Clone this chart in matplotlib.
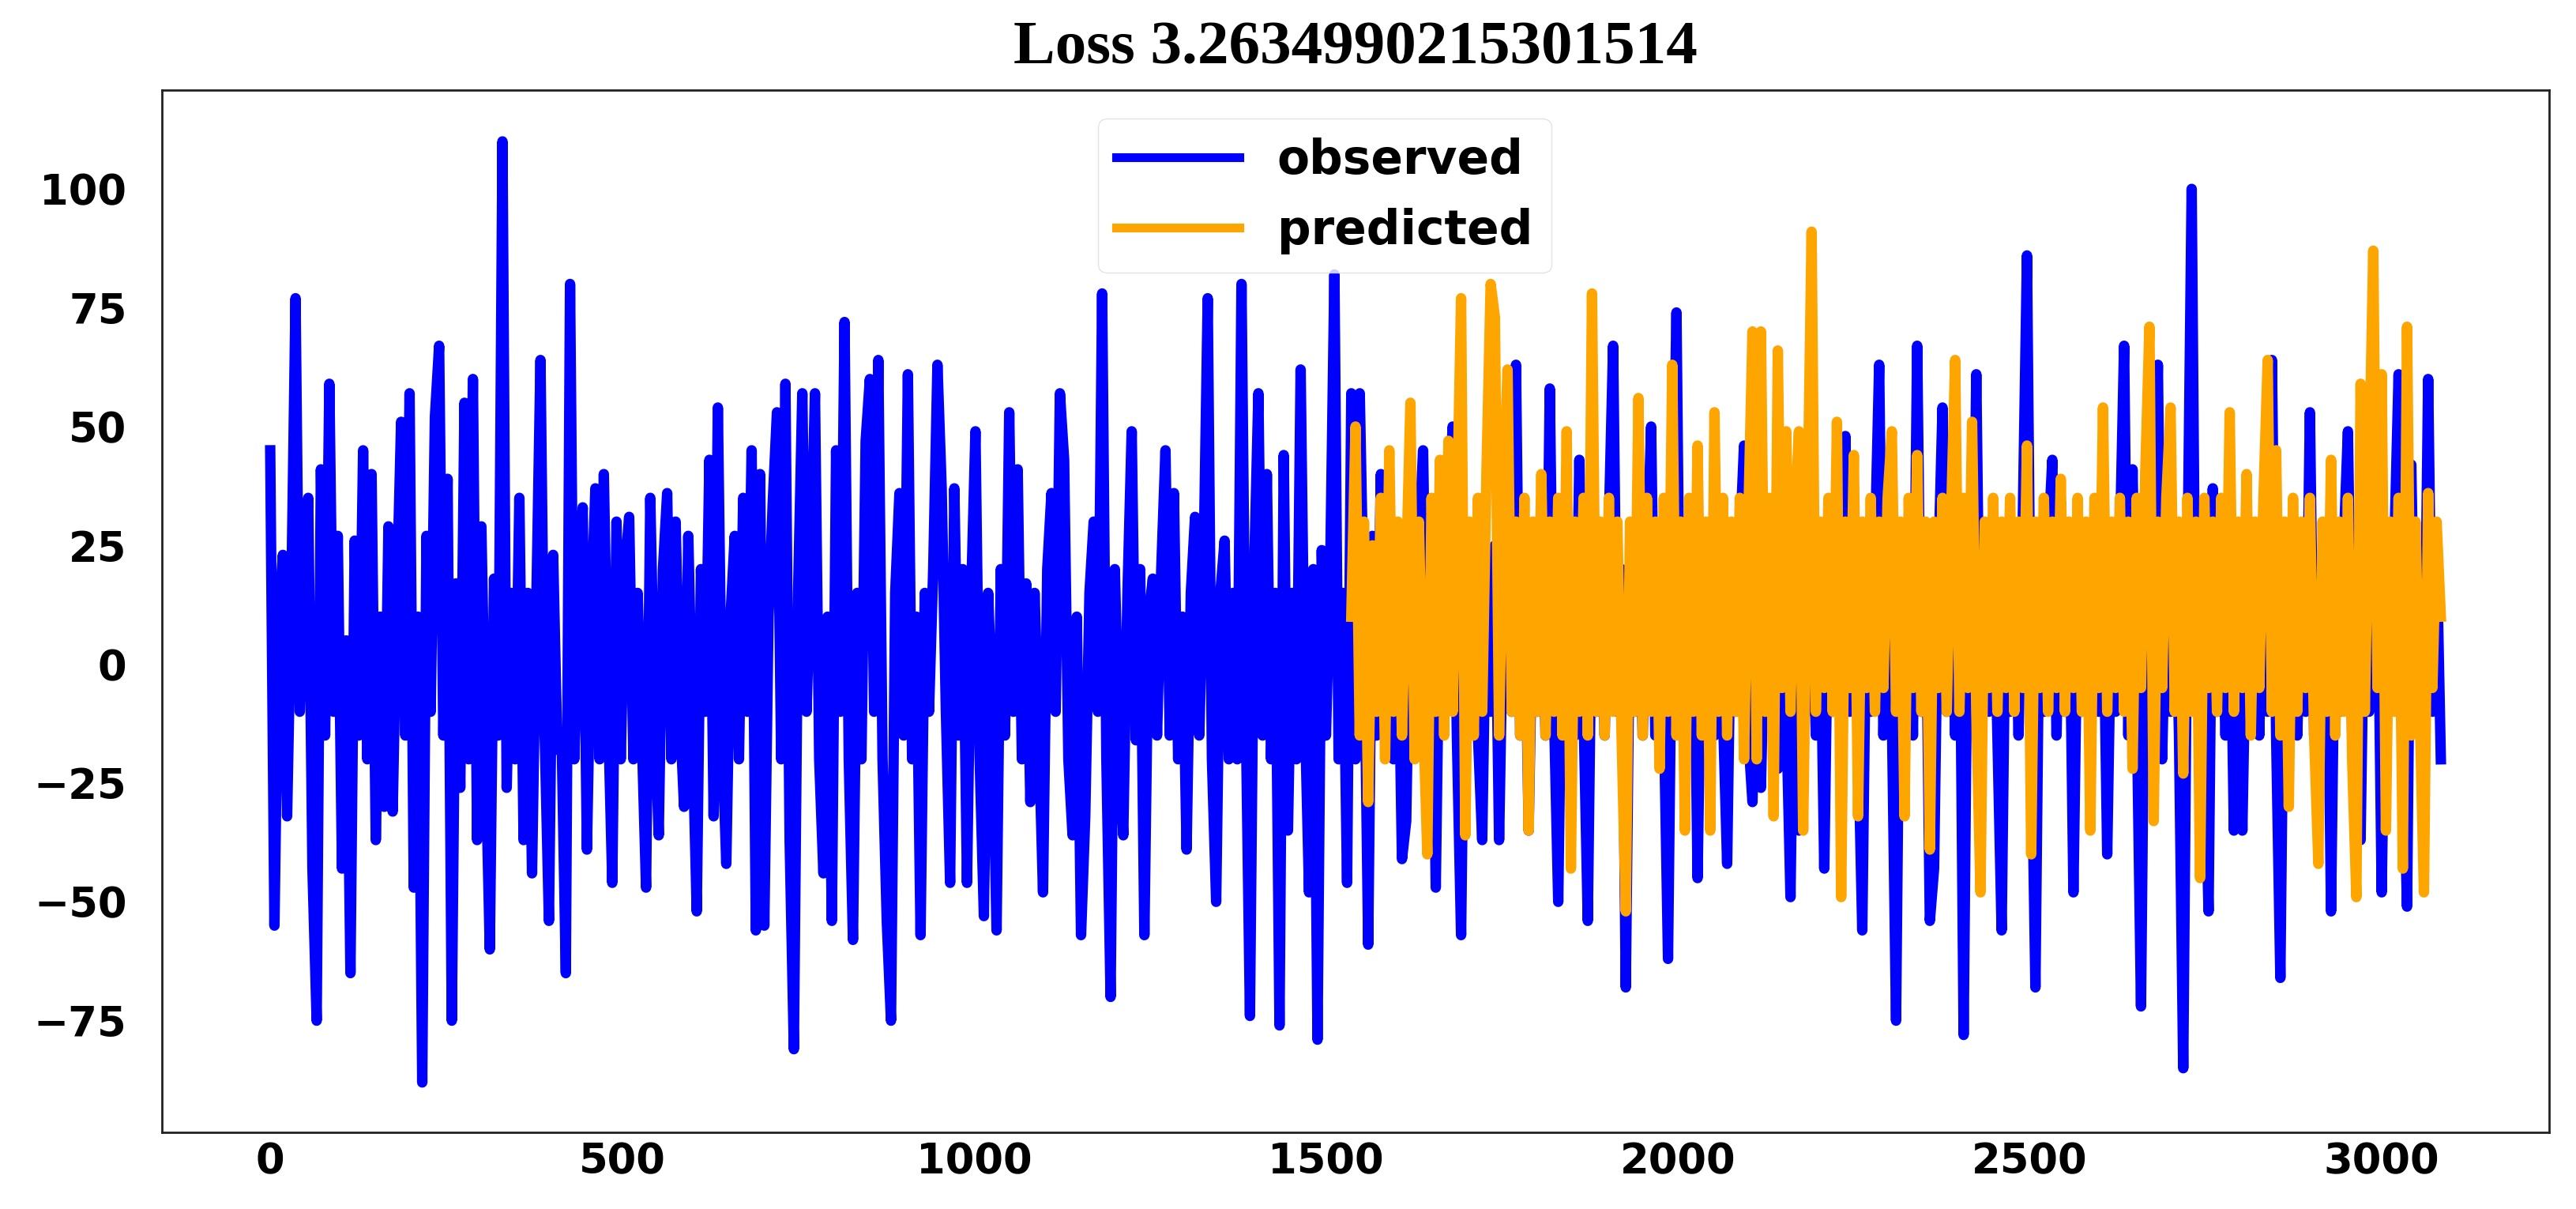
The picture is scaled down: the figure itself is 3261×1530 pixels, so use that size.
import numpy as np
import matplotlib
matplotlib.use("Agg")
import matplotlib.pyplot as plt

# ---------------- data (vertices every STEP samples) -------------
STEP = 6
title_text = "Loss 3.2634990215301514"
labels = ["observed", "predicted"]
x_ticks = [0, 500, 1000, 1500, 2000, 2500, 3000]
y_ticks = [-75, -50, -25, 0, 25, 50, 75, 100]

obs_start_1 = 0
obs_vals_1 = [45, -55, 10, 23, -32, 15, 77, -10, 20, 35, -43, -75, 41, -15, 59, -10, 27, -43, 5, -65,
              26, -15, 45, -20, 40, -37, 10, -30, 29, -31, 15, 51, -15, 57, -47, 10, -88, 27, -10, 52,
              67, -15, 39, -75, 17, -26, 55, -20, 60, -37, 29, -20, -60, 18, -15, 110, -26, 15, -20, 35,
              -37, 15, -44, 12, 64, -15, -54, 23, -18]
obs_start_2 = 414
obs_vals_2 = [-15, -65, 80, -20, 15, 33, -39, 10, 37, -20, 40, -10, -46, 30, -20, 20, 31, -20, 15, -15,
              -47, 35, -10, -36, 20, 36, -20, 30, -10, -30, 27, -15, -52, 20, -10, 43, -32, 54, -15, -42,
              10, 27, -20, 35, -10, 45, -56, 40, -55, 10, 34, 53, -20, 59, -37, -81, 15, 57, -10, 20,
              57, -20, -44, 10, -54, 45, -10, 72, -20, -58, 15, -20, 47, 60, -10, 64, -20, -54, -75, 15,
              36, -15, 61, -20, 10, -57, 15, -10, 20, 63, 37, -10, -46]
obs_start_3 = 972
obs_vals_3 = [37, -15, 20, -46, 15, 49, -20, -53, 15, -10, -56, 20, -15, 53, -10, 41, -20, 17, -29, 15,
              -15, -48, 20, 36, -10, 57, 43, -20, -36, 10, -57, -32, 15, 30, -10, 78, -20, -70, 20, -15,
              -36, 15, 49, -16, 20, -57, 10, 18, -15, 20, 45, -15, 36, -20, 10, -39, 15, 31, -15, 20,
              77, -20, -50, 15, 26, -20, 15, -20, 80, -10, -74, 20, 57, -15, 40, -20, 15, -76, 44, -35,
              15, -20, 62, -10, -48, 20, -79, 24, -15, 20, 82, -20, 15, -46, 57]
obs_start_4 = 1542
obs_vals_4 = [-20, 57, 10, -59, 27, -15, 40, -10, 20, -20, 15, -41, -33, 20, -10, 25, 45, -15, 20, -47,
              20, -10, 30, 50, -15, -57, 20, -10, 25, -15, -37, 20, -10, 25, -37, 15, 20, -10, 63, -15,
              20, -35, 15, -10, 25, -15, 58, -10, -50, 20, -10, 25, -15, 43, -10, -54, 20, -10, 25, -15,
              30, 67, -10, 20, -68, 15, -10, 25, -15, 20, 50, -15, 20, -10, -62, 20, 74, -15, 20, -10,
              25, -45, 15, -10, 25, -15, 20, -10, -42, 20, -10, 25, 46, -15, -29]
obs_start_5 = 2112
obs_vals_5 = [20, -26, 15, -10, 20, -22, 15, -10, -49, 20, -35, 15, -10, 20, -15, 15, -43, 20, -10, 25,
              -15, 48, -10, 20, -15, -56, 20, -10, 25, 63, -15, 20, -10, -75, 20, -10, 25, -15, 67, -10,
              20, -54, -43, 20, 54, -10, 20, -15, 25, -78, 20, -10, 61, -15, 20, -10, 25, -15, -56, 20,
              -10, 25, -15, 30, 86, -10, -68, 20, -10, 25, 43, -15, 34, -10, 20, -48, 15, -10, 20, -15,
              25, -10, 20, -40, 15, -10, 25, 67, -15, 41, -10, -72, 20, -10, 25, 63]
obs_start_6 = 2688
obs_vals_6 = [-20, 20, -10, 25, -15, -85, 20, 100, -10, 20, -15, -52, 37, -10, 20, -15, 25, -35, 20, -35,
              15, -10, 20, -15, 25, -10, 64, -15, -66, 20, -10, 25, -15, 20, -10, 53, -15, 20, -10, 25,
              -52, 20, -10, 25, 49, -15, 20, -37, 25, -10, 20, 24, -48, 15, -10, 25, 61, -15, -51, 42,
              -10, 20, -15, 60, -10, 25, -20]

pred_start_1 = 1536
pred_vals_1 = [10, 50, -15, 30, -29, 25, -10, 35, -20, 45, -10, 30, -15, 20, 55, -20, 30, -10, -40, 35,
               -10, 43, -15, 47, -10, 30, 77, -36, 30, -15, 35, -10, 40, 80, 73, -15, 35, 62, -10, 30,
               -15, 35, -35, 30, -10, 40, -15, 30, -10, 35, -15, 49, -43, 30, -10, 35, -15, 78, -10, 30,
               -15, 35, -10, 30, -15, -52, 30, -10, 56, -15, 35, -10, 30, -22, 35, -10, 63, -15, 30, -35,
               35, -10, 46, -15, 30, -35, 53, -10, 35, -15, 30, -10, 35, -20, 30, 70]
pred_start_2 = 2112
pred_vals_2 = [-20, 70, -10, 35, -32, 66, -5, 49, -10, 30, 49, -35, 30, 91, -10, 30, -5, 35, -10, 51,
               -49, 30, -5, 44, -32, 30, -5, 35, -10, 30, -5, 35, 49, -10, 30, -32, 35, -5, 44, -10,
               30, -39, 30, -5, 35, -10, 30, 64, -10, 35, -5, 51, -10, -48, 30, -5, 35, -10, 30, -5,
               35, -10, 30, -5, 46, -40, 30, -5, 35, -10, 30, -5, 39, -10, 30, -5, 35, -10, 30, -35,
               35, -5, 54, -10, 30, -5, 35, -10, 30, -22, 35, -5, 40, 71, -33, 30]
pred_start_3 = 2688
pred_vals_3 = [-5, 35, 54, -10, 30, -23, 35, -10, 30, -45, 35, -5, 30, -10, 35, -5, 53, -10, 30, -5,
               40, -15, 30, -5, 35, 64, -10, 45, -15, 30, -30, 35, -10, 30, -5, 35, -15, -42, 30, -10,
               43, -15, 30, -10, 35, -20, -49, 59, -10, 40, 87, -5, 61, -35, 30, -10, 35, -43, 71, -15,
               30, -10, -48, 36, -5, 30, 10]


def assemble(parts):
    xs, ys = [], []
    for start, vals in parts:
        xs.extend(start + STEP * np.arange(len(vals)))
        ys.extend(vals)
    return np.array(xs), np.array(ys, dtype=float)


obs_x, obs_y = assemble([(obs_start_1, obs_vals_1), (obs_start_2, obs_vals_2), (obs_start_3, obs_vals_3),
                         (obs_start_4, obs_vals_4), (obs_start_5, obs_vals_5), (obs_start_6, obs_vals_6)])
pred_x, pred_y = assemble([(pred_start_1, pred_vals_1), (pred_start_2, pred_vals_2),
                           (pred_start_3, pred_vals_3)])

# ---------------- figure ----------------
fig = plt.figure(figsize=(32.62, 15.30), dpi=100)
ax = fig.add_axes([0.0628, 0.0634, 0.9265, 0.8621])

ax.plot(obs_x, obs_y, color="blue", lw=9.5, label=labels[0])
ax.plot(pred_x, pred_y, color="orange", lw=9.5, label=labels[1])

ax.set_xlim(-154, 3238)
ax.set_ylim(-98.5, 120.8)
ax.set_xticks(x_ticks)
ax.set_yticks(y_ticks)
ax.tick_params(axis="both", length=0, labelsize=38)
ax.tick_params(axis="y", pad=32)
ax.tick_params(axis="x", pad=8)
for lab in ax.get_xticklabels() + ax.get_yticklabels():
    lab.set_fontweight("bold")
    lab.set_family("DejaVu Sans")

for sp in ax.spines.values():
    sp.set_linewidth(2.0)
    sp.set_color("#222222")

ax.set_title(title_text, fontsize=57, fontweight="bold", family="Liberation Serif", pad=24)

leg = ax.legend(loc="upper center", prop={"family": "DejaVu Sans", "weight": "bold", "size": 43},
                handlelength=2.6, frameon=True, fancybox=True, framealpha=0.8,
                borderaxespad=0.6, bbox_to_anchor=(0.487, 1.0))
leg.get_frame().set_edgecolor("#dddddd")
for line in leg.get_lines():
    line.set_linewidth(8)

fig.savefig("out.png", dpi=100, facecolor="white")
